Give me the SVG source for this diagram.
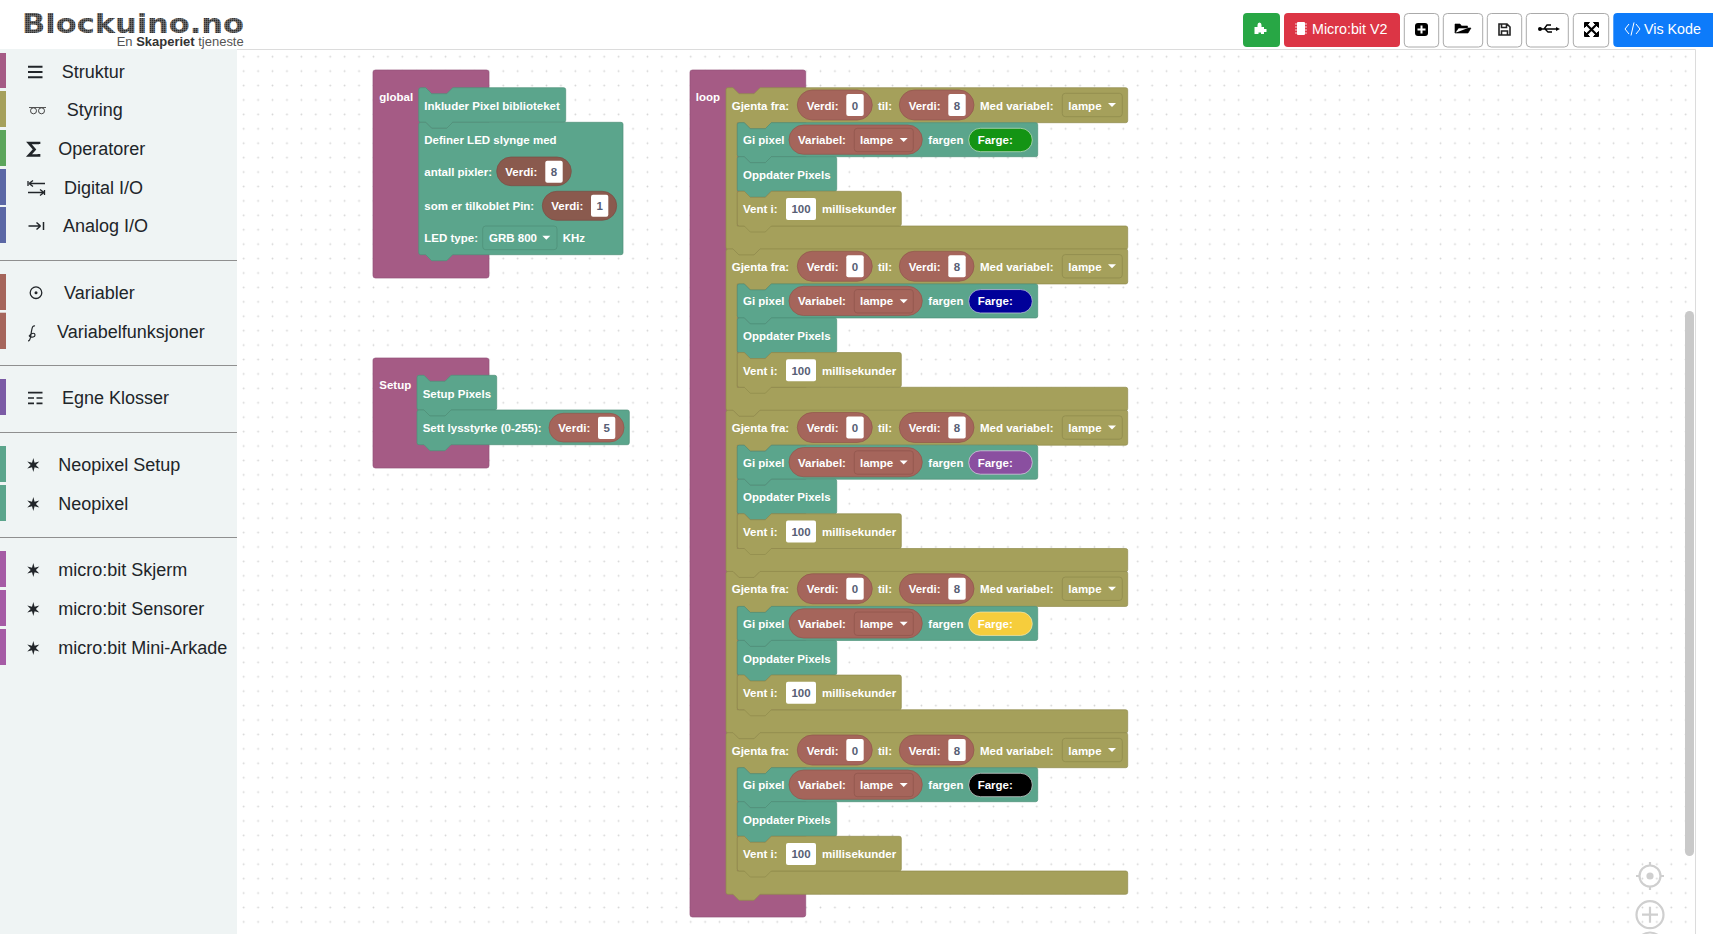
<svg xmlns="http://www.w3.org/2000/svg" xmlns:xlink="http://www.w3.org/1999/xlink" width="1713" height="934" viewBox="0 0 1713 934">
<style>
text{font-family:"Liberation Sans",Arial,sans-serif}
.b{font-weight:700;font-size:11.5px;fill:#fff}
.v{font-weight:700;font-size:11.5px;fill:#575e75;text-anchor:middle}
.m{font-size:18px;fill:#212529}
.hat{fill:#a55b85;stroke:#94507a;stroke-width:.7}
.ol{fill:#a5a05b;stroke:#8f8b4c;stroke-width:.7}
.te{fill:#5ba58c;stroke:#4f9079;stroke-width:.7}
.pill{fill:#a5655b;stroke:#91564c;stroke-width:.7}
.dark{fill:#8a5a4e;stroke:#7a4e44;stroke-width:.7}
.in{fill:#fff}
.dd{fill:none;stroke:#8f8b4c;stroke-width:.8}
.dp{fill:none;stroke:#91564c;stroke-width:.8}
.dt{fill:none;stroke:#4f9079;stroke-width:.8}
.arr{fill:#fff}
.sep{stroke:#8f8f8f;stroke-width:1}
.ic{stroke:#212529;fill:none;stroke-width:1.6}
.bo{fill:#fff;stroke:#aaa;stroke-width:1}
</style>
<defs>
<pattern id="grid" patternUnits="userSpaceOnUse" x="236.5" y="49.5" width="14.42" height="14.42"><circle cx="7.2" cy="7.2" r="0.9" fill="#d4d4d4"/></pattern>
<pattern id="logoDots" patternUnits="userSpaceOnUse" width="2" height="2"><rect width="2" height="2" fill="#8a8a8a"/><rect width="1.5" height="1.5" fill="#2e2e2e"/></pattern>
<path id="a" d="M-4,-2 h8 l-4,4 z" class="arr"/>
<polygon id="star" fill="#212529" points="0,-7 1.3,-2.2 6,-3.5 2.600,0 6,3.500 1.300,2.200 0,7 -1.300,2.200 -6,3.500 -2.600,0 -6,-3.500 -1.300,-2.200"/>
<path id="pRepeat" d="M726,89.7 q0,-2 2,-2 h5 l6 6 h15 l6 -6 H1125.7 q2 0 2 2 V120.7 q0 2 -2 2 H771.3 l-6 6 h-15 l-6 -6 H737.3 V226 H1125.7 q2 0 2 2 V247.3 q0 2 -2 2 H760 l-6 6 h-15 l-6 -6 H728 q-2 0 -2 -2 z"/>
<path id="pGi" d="M737.3,124.7 q0,-2 2,-2 h5 l6 6 h15 l6 -6 H1035.7 q2 0 2 2 V154.7 q0 2 -2 2 H771.3 l-6 6 h-15 l-6 -6 H739.3 q-2 0 -2 -2 z"/>
<path id="pOpp" d="M737.3,158.7 q0,-2 2,-2 h5 l6 6 h15 l6 -6 H834.7 q2 0 2 2 V189.3 q0 2 -2 2 H771.3 l-6 6 h-15 l-6 -6 H739.3 q-2 0 -2 -2 z"/>
<path id="pVent" d="M737.3,193.3 q0,-2 2,-2 h5 l6 6 h15 l6 -6 H899.3 q2 0 2 2 V224 q0 2 -2 2 H771.3 l-6 6 h-15 l-6 -6 H739.3 q-2 0 -2 -2 z"/>
<g id="head">
<rect class="pill" x="797.3" y="90" width="75" height="30" rx="15"/>
<rect class="in" x="846.3" y="94" width="17.4" height="22" rx="2"/>
<rect class="pill" x="899.3" y="90" width="74.7" height="30" rx="15"/>
<rect class="in" x="948.3" y="94" width="17.4" height="22" rx="2"/>
<rect class="dd" x="1062.3" y="93.3" width="60" height="23.4" rx="3"/>
<use xlink:href="#a" href="#a" x="1112" y="105"/>
<rect class="pill" x="789" y="125" width="133.3" height="29.3" rx="14.6"/>
<rect class="dp" x="854.3" y="128.3" width="59" height="23.4" rx="3"/>
<use xlink:href="#a" href="#a" x="903.7" y="140"/>
<rect class="in" x="786" y="198" width="30" height="22" rx="2"/>
</g>
</defs>

<rect width="1713" height="934" fill="#fff"/>
<rect x="237" y="50" width="1458" height="884" fill="url(#grid)"/>
<path d="M237,49.5 H1695.5 V934" fill="none" stroke="#dcdcdc" stroke-width="1"/>
<rect x="1685" y="311" width="9" height="545" rx="4.5" fill="#c9c9c9"/>

<g id="zoom-controls" fill="none" stroke="#cfcfcf" stroke-width="2.2">
<circle cx="1650" cy="876" r="10.5"/><circle cx="1650" cy="876" r="3.6" fill="#cfcfcf" stroke="none"/>
<path d="M1650,862 v4 M1650,886 v4 M1636,876 h4 M1660,876 h4"/>
<circle cx="1650" cy="914.7" r="13.5"/><path d="M1642,914.7 h16 M1650,906.7 v16"/>
<circle cx="1650" cy="946" r="13.5"/>
</g>

<g id="header">
<text id="logo" x="22" y="33" font-size="27" font-weight="700" fill="url(#logoDots)" textLength="222" lengthAdjust="spacingAndGlyphs" style="font-family:'DejaVu Sans',sans-serif">Blockuino.no</text>
<text x="116.7" y="46.3" font-size="12.2" fill="#555" textLength="127" lengthAdjust="spacingAndGlyphs">En <tspan font-weight="700" fill="#333">Skaperiet</tspan> tjeneste</text>
</g>

<g id="btn-ext"><rect x="1243" y="13" width="37" height="34" rx="4" fill="#28a745"/>
<path d="M1254.500,27 h3 v-2 a2,2.500 0 1 1 4,0 v2 h2.500 v2 h2.500 v3 h-2.500 v2 h-3 v-1.500 h-2.500 v1.500 h-4 z" fill="#fff"/></g>
<g id="btn-board"><rect x="1284" y="13" width="116" height="34" rx="4" fill="#dc3545"/>
<rect x="1297" y="22" width="8" height="13" rx="1" fill="#fff"/><path d="M1295,24 h12 M1295,27 h12 M1295,30 h12 M1295,33 h12" stroke="#fff" stroke-width=".8"/>
<text x="1312" y="34" font-size="14.3" fill="#fff">Micro:bit V2</text></g>
<g id="btn-new"><rect class="bo" x="1404.3" y="13.500" width="34.400" height="33.500" rx="4"/><rect x="1415" y="23" width="13" height="13" rx="3" fill="#000"/><path d="M1421.500,25.500 v8 M1417.500,29.500 h8" stroke="#fff" stroke-width="2"/></g>
<g id="btn-open"><rect class="bo" x="1443.300" y="13.500" width="39.400" height="33.500" rx="4"/><path d="M1455,33 V24 h5 l1.500,2 h6 v2 h-9 l-3.500,5 h13 l3,-5 h-3" fill="#000" stroke="#000" stroke-width=".6"/></g>
<g id="btn-save"><rect class="bo" x="1487.300" y="13.500" width="34.400" height="33.500" rx="4"/><path d="M1499,24 h8 l3,3 v8 h-11 z M1501.500,24 v3.500 h5 v-3.500 M1501.500,35 v-4 h6 v4" fill="none" stroke="#222" stroke-width="1.600"/></g>
<g id="btn-usb"><rect class="bo" x="1526.300" y="13.500" width="42" height="33.500" rx="4"/><path d="M1539,29 h17 M1544,29 l3,-4 h4 M1545,29 l3,3 h4" fill="none" stroke="#000" stroke-width="1.300"/><circle cx="1540" cy="29" r="2" fill="#000"/><path d="M1556,27 l4,2 -4,2 z" fill="#000"/></g>
<g id="btn-full"><rect class="bo" x="1573.300" y="13.500" width="35.400" height="33.500" rx="4"/><path d="M1586,24 l11,11 M1597,24 l-11,11" stroke="#000" stroke-width="2.200"/><path d="M1584.500,22.500 h5 l-5,5 z M1598.500,22.500 h-5 l5,5 z M1584.500,36.500 h5 l-5,-5 z M1598.500,36.500 h-5 l5,-5 z" fill="#000" stroke="#000"/></g>
<g id="btn-code"><path d="M1713,13 H1617.300 a4,4 0 0 0 -4,4 V43 a4,4 0 0 0 4,4 H1713 z" fill="#0d7bfa"/>
<path d="M1629,24 l-4,5 4,5 M1636,24 l4,5 -4,5 M1634,22.500 l-3,13" fill="none" stroke="#fff" stroke-width="1"/>
<text x="1644" y="34" font-size="14.300" fill="#fff">Vis Kode</text></g>

<g id="sidebar">
<rect x="0" y="49" width="237" height="885" fill="#eff4f4"/>
<path class="sep" d="M0,260.500 H237 M0,365.500 H237 M0,432.500 H237 M0,537.500 H237"/>
</g>
<g id="cat-struktur"><rect y="53" width="6" height="35" fill="#a55b85"/><path d="M28,66.700 h14.500 M28,72 h14.500 M28,77.300 h14.500" stroke="#212529" stroke-width="1.900"/><text class="m" x="61.700" y="78">Struktur</text></g>
<g id="cat-styring"><rect y="91" width="6" height="36" fill="#a5a05b"/><path d="M29,107.500 h17" stroke="#555" stroke-width="1"/><circle class="ic" style="stroke-width:1;stroke:#444" cx="33.500" cy="110.800" r="3"/><circle class="ic" style="stroke-width:1;stroke:#444" cx="41.500" cy="110.800" r="3"/><text class="m" x="66.700" y="116">Styring</text></g>
<g id="cat-operatorer"><rect y="130" width="6" height="36" fill="#5ba55b"/><path d="M39,144 V143 H29 L34.500,149.500 L29,155.500 H39 V154" fill="none" stroke="#212529" stroke-width="2.700"/><text class="m" x="58.300" y="155">Operatorer</text></g>
<g id="cat-digital"><rect y="169" width="6" height="36" fill="#5b67a5"/><path d="M28,181 V186 M29,183.500 h16 M29,183.500 l4,-3 M29,183.500 l4,3 M44.500,190 V195 M28,192.500 h16 M44,192.500 l-4,-3 M44,192.500 l-4,3" class="ic" style="stroke-width:1.300"/><text class="m" x="64" y="194">Digital I/O</text></g>
<g id="cat-analog"><rect y="207" width="6" height="36" fill="#5b67a5"/><path d="M28.500,226 h12 M40.500,226 l-4,-3.500 M40.500,226 l-4,3.500 M43.500,222 v8" class="ic" style="stroke-width:1.500"/><text class="m" x="63" y="232">Analog I/O</text></g>
<g id="cat-variabler"><rect y="274" width="6" height="36" fill="#a5655b"/><circle class="ic" style="stroke-width:1.300" cx="36" cy="292.700" r="5.800"/><circle cx="36" cy="292.700" r="1.500" fill="#212529"/><text class="m" x="64" y="299">Variabler</text></g>
<g id="cat-varfunk"><rect y="312.700" width="6" height="36.300" fill="#a5655b"/><path d="M35,326 c-3,-1 -3,3 -4,8 c-.6,4 -.5,7 -3,7 M29,336 c3,-4 6,-3 6,-1 c0,2 -3,3 -6,1" class="ic" style="stroke-width:1.200"/><text class="m" x="57" y="338">Variabelfunksjoner</text></g>
<g id="cat-egne"><rect y="379" width="6" height="36" fill="#7b5ba5"/><path d="M28,392.700 h14.500 M28,398 h6 M36.500,398 h6 M28,403.300 h6 M36.500,403.300 h6" stroke="#212529" stroke-width="1.700"/><text class="m" x="62" y="404">Egne Klosser</text></g>
<g id="cat-neosetup"><rect y="446" width="6" height="36" fill="#5ba58c"/><use xlink:href="#star" href="#star" x="33.300" y="465"/><text class="m" x="58.300" y="471">Neopixel Setup</text></g>
<g id="cat-neo"><rect y="485" width="6" height="36" fill="#5ba58c"/><use xlink:href="#star" href="#star" x="33.300" y="504"/><text class="m" x="58.300" y="510">Neopixel</text></g>
<g id="cat-skjerm"><rect y="551" width="6" height="36" fill="#a55ba5"/><use xlink:href="#star" href="#star" x="33.300" y="570"/><text class="m" x="58.300" y="576">micro:bit Skjerm</text></g>
<g id="cat-sensorer"><rect y="590" width="6" height="36" fill="#a55ba5"/><use xlink:href="#star" href="#star" x="33.300" y="609"/><text class="m" x="58.300" y="615">micro:bit Sensorer</text></g>
<g id="cat-arkade"><rect y="629" width="6" height="36" fill="#a55ba5"/><use xlink:href="#star" href="#star" x="33.300" y="648"/><text class="m" x="58.300" y="654">micro:bit Mini-Arkade</text></g>

<g id="block-global">
<rect class="hat" x="373" y="70" width="116" height="208" rx="2.500"/>
<text class="b" x="379.300" y="100.700">global</text>
<path class="te" d="M418.700,89.700 q0,-2 2,-2 h5 l6 6 h15 l6 -6 H563.700 q2 0 2 2 V120.300 q0 2 -2 2 H452.700 l-6 6 h-15 l-6 -6 H420.700 q-2 0 -2 -2 z"/>
<text class="b" x="424.300" y="110">Inkluder Pixel biblioteket</text>
<path class="te" d="M418.700,124.300 q0,-2 2,-2 h5 l6 6 h15 l6 -6 H621 q2 0 2 2 V252.700 q0 2 -2 2 H452.700 l-6 6 h-15 l-6 -6 H420.700 q-2 0 -2 -2 z"/>
<text class="b" x="424.300" y="144">Definer LED slynge med</text>
<text class="b" x="424.300" y="176">antall pixler:</text>
<rect class="dark" x="496.700" y="157" width="74.600" height="28.700" rx="14.300"/>
<text class="b" x="505.300" y="176">Verdi:</text>
<rect class="in" x="545.300" y="160.700" width="17.400" height="22" rx="2"/><text class="v" x="554" y="176">8</text>
<text class="b" x="424.300" y="210">som er tilkoblet Pin:</text>
<rect class="dark" x="542.300" y="191.300" width="74.400" height="29" rx="14.500"/>
<text class="b" x="551.300" y="210">Verdi:</text>
<rect class="in" x="591" y="194.700" width="17.300" height="22" rx="2"/><text class="v" x="599.700" y="210">1</text>
<text class="b" x="424.300" y="242">LED type:</text>
<rect class="dt" x="482.700" y="226" width="74.300" height="23.700" rx="3"/>
<text class="b" x="489" y="242">GRB 800</text>
<use xlink:href="#a" href="#a" x="546.300" y="237.700"/>
<text class="b" x="562.700" y="242">KHz</text>
</g>

<g id="block-setup">
<rect class="hat" x="373" y="358" width="116" height="110" rx="2.500"/>
<text class="b" x="379.300" y="389">Setup</text>
<path class="te" d="M417,377.300 q0,-2 2,-2 h5 l6 6 h15 l6 -6 H494.700 q2 0 2 2 V408 q0 2 -2 2 H451 l-6 6 h-15 l-6 -6 H419 q-2 0 -2 -2 z"/>
<text class="b" x="422.700" y="398.300">Setup Pixels</text>
<path class="te" d="M417,412 q0,-2 2,-2 h5 l6 6 h15 l6 -6 H627.300 q2 0 2 2 V442.700 q0 2 -2 2 H451 l-6 6 h-15 l-6 -6 H419 q-2 0 -2 -2 z"/>
<text class="b" x="422.700" y="431.700">Sett lysstyrke (0-255):</text>
<rect class="pill" x="549" y="413.300" width="75" height="28.700" rx="14.300"/>
<text class="b" x="558.300" y="431.700">Verdi:</text>
<rect class="in" x="598" y="416.700" width="17.300" height="22.300" rx="2"/><text class="v" x="606.700" y="431.700">5</text>
</g>

<g id="block-loop">
<rect class="hat" x="690" y="70" width="115.700" height="847" rx="2.500"/>
<text class="b" x="695.700" y="100.700">loop</text>

<g id="repeat-1">
<use xlink:href="#pRepeat" href="#pRepeat" class="ol"/><use xlink:href="#pGi" href="#pGi" class="te"/><use xlink:href="#pOpp" href="#pOpp" class="te"/><use xlink:href="#pVent" href="#pVent" class="ol"/><use xlink:href="#head" href="#head"/>
<text class="b" x="731.700" y="110">Gjenta fra:</text><text class="b" x="806.700" y="110">Verdi:</text><text class="v" x="855" y="110">0</text><text class="b" x="878" y="110">til:</text><text class="b" x="908.700" y="110">Verdi:</text><text class="v" x="957" y="110">8</text><text class="b" x="980" y="110">Med variabel:</text><text class="b" x="1068.300" y="110">lampe</text>
<text class="b" x="743" y="144">Gi pixel</text><text class="b" x="798" y="144">Variabel:</text><text class="b" x="860" y="144">lampe</text><text class="b" x="928.300" y="144">fargen</text>
<rect x="968.700" y="128.300" width="63.600" height="23.400" rx="11.700" fill="#149414" stroke="#cfe3cf" stroke-width=".7"/><text class="b" x="977.700" y="144">Farge:</text>
<text class="b" x="743" y="178.700">Oppdater Pixels</text>
<text class="b" x="743" y="212.700">Vent i:</text><text class="v" x="801" y="212.700">100</text><text class="b" x="822" y="212.700">millisekunder</text>
</g>

<g id="repeat-2" transform="translate(0,161.250)">
<use xlink:href="#pRepeat" href="#pRepeat" class="ol"/><use xlink:href="#pGi" href="#pGi" class="te"/><use xlink:href="#pOpp" href="#pOpp" class="te"/><use xlink:href="#pVent" href="#pVent" class="ol"/><use xlink:href="#head" href="#head"/>
<text class="b" x="731.700" y="110">Gjenta fra:</text><text class="b" x="806.700" y="110">Verdi:</text><text class="v" x="855" y="110">0</text><text class="b" x="878" y="110">til:</text><text class="b" x="908.700" y="110">Verdi:</text><text class="v" x="957" y="110">8</text><text class="b" x="980" y="110">Med variabel:</text><text class="b" x="1068.300" y="110">lampe</text>
<text class="b" x="743" y="144">Gi pixel</text><text class="b" x="798" y="144">Variabel:</text><text class="b" x="860" y="144">lampe</text><text class="b" x="928.300" y="144">fargen</text>
<rect x="968.700" y="128.300" width="63.600" height="23.400" rx="11.700" fill="#000099" stroke="#cfcfe3" stroke-width=".7"/><text class="b" x="977.700" y="144">Farge:</text>
<text class="b" x="743" y="178.700">Oppdater Pixels</text>
<text class="b" x="743" y="213.300">Vent i:</text><text class="v" x="801" y="213.300">100</text><text class="b" x="822" y="213.300">millisekunder</text>
</g>

<g id="repeat-3" transform="translate(0,322.500)">
<use xlink:href="#pRepeat" href="#pRepeat" class="ol"/><use xlink:href="#pGi" href="#pGi" class="te"/><use xlink:href="#pOpp" href="#pOpp" class="te"/><use xlink:href="#pVent" href="#pVent" class="ol"/><use xlink:href="#head" href="#head"/>
<text class="b" x="731.700" y="109.500">Gjenta fra:</text><text class="b" x="806.700" y="109.500">Verdi:</text><text class="v" x="855" y="109.500">0</text><text class="b" x="878" y="109.500">til:</text><text class="b" x="908.700" y="109.500">Verdi:</text><text class="v" x="957" y="109.500">8</text><text class="b" x="980" y="109.500">Med variabel:</text><text class="b" x="1068.300" y="109.500">lampe</text>
<text class="b" x="743" y="144">Gi pixel</text><text class="b" x="798" y="144">Variabel:</text><text class="b" x="860" y="144">lampe</text><text class="b" x="928.300" y="144">fargen</text>
<rect x="968.700" y="128.300" width="63.600" height="23.400" rx="11.700" fill="#8a4fa0" stroke="#e0d4e6" stroke-width=".7"/><text class="b" x="977.700" y="144">Farge:</text>
<text class="b" x="743" y="178.700">Oppdater Pixels</text>
<text class="b" x="743" y="213.500">Vent i:</text><text class="v" x="801" y="213.500">100</text><text class="b" x="822" y="213.500">millisekunder</text>
</g>

<g id="repeat-4" transform="translate(0,483.750)">
<use xlink:href="#pRepeat" href="#pRepeat" class="ol"/><use xlink:href="#pGi" href="#pGi" class="te"/><use xlink:href="#pOpp" href="#pOpp" class="te"/><use xlink:href="#pVent" href="#pVent" class="ol"/><use xlink:href="#head" href="#head"/>
<text class="b" x="731.700" y="109.200">Gjenta fra:</text><text class="b" x="806.700" y="109.200">Verdi:</text><text class="v" x="855" y="109.200">0</text><text class="b" x="878" y="109.200">til:</text><text class="b" x="908.700" y="109.200">Verdi:</text><text class="v" x="957" y="109.200">8</text><text class="b" x="980" y="109.200">Med variabel:</text><text class="b" x="1068.300" y="109.200">lampe</text>
<text class="b" x="743" y="144">Gi pixel</text><text class="b" x="798" y="144">Variabel:</text><text class="b" x="860" y="144">lampe</text><text class="b" x="928.300" y="144">fargen</text>
<rect x="968.700" y="128.300" width="63.600" height="23.400" rx="11.700" fill="#f6cd3c" stroke="#f5e6b0" stroke-width=".7"/><text class="b" x="977.700" y="144">Farge:</text>
<text class="b" x="743" y="179.500">Oppdater Pixels</text>
<text class="b" x="743" y="213.200">Vent i:</text><text class="v" x="801" y="213.200">100</text><text class="b" x="822" y="213.200">millisekunder</text>
</g>

<g id="repeat-5" transform="translate(0,645)">
<use xlink:href="#pRepeat" href="#pRepeat" class="ol"/><use xlink:href="#pGi" href="#pGi" class="te"/><use xlink:href="#pOpp" href="#pOpp" class="te"/><use xlink:href="#pVent" href="#pVent" class="ol"/><use xlink:href="#head" href="#head"/>
<text class="b" x="731.700" y="110">Gjenta fra:</text><text class="b" x="806.700" y="110">Verdi:</text><text class="v" x="855" y="110">0</text><text class="b" x="878" y="110">til:</text><text class="b" x="908.700" y="110">Verdi:</text><text class="v" x="957" y="110">8</text><text class="b" x="980" y="110">Med variabel:</text><text class="b" x="1068.300" y="110">lampe</text>
<text class="b" x="743" y="144">Gi pixel</text><text class="b" x="798" y="144">Variabel:</text><text class="b" x="860" y="144">lampe</text><text class="b" x="928.300" y="144">fargen</text>
<rect x="968.700" y="128.300" width="63.600" height="23.400" rx="11.700" fill="#000" stroke="#ddd" stroke-width=".7"/><text class="b" x="977.700" y="144">Farge:</text>
<text class="b" x="743" y="178.700">Oppdater Pixels</text>
<text class="b" x="743" y="212.700">Vent i:</text><text class="v" x="801" y="212.700">100</text><text class="b" x="822" y="212.700">millisekunder</text>
</g>
</g>
</svg>
